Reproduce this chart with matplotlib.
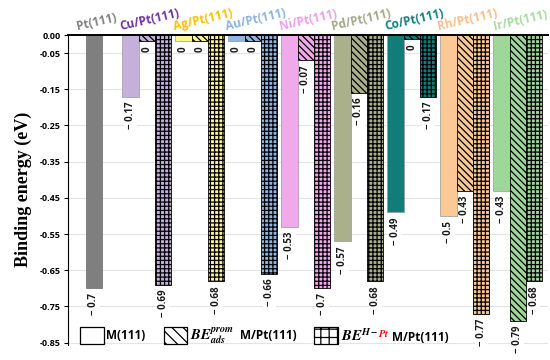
import numpy as np
import matplotlib
matplotlib.use('Agg')
import matplotlib.pyplot as plt
from matplotlib.patches import Rectangle
from matplotlib.offsetbox import (AnchoredOffsetbox, DrawingArea, HPacker,
                                  TextArea)

CATEGORIES = ['Pt(111)', 'Cu/Pt(111)', 'Ag/Pt(111)', 'Au/Pt(111)', 'Ni/Pt(111)',
              'Pd/Pt(111)', 'Co/Pt(111)', 'Rh/Pt(111)', 'Ir/Pt(111)']
PT_VALUE = -0.70
PT_LABEL = '\u2212 0.7'

# metal groups (Cu ... Ir)
m111 = [-0.17, -0.017, -0.017, -0.53, -0.57, -0.49, -0.50, -0.43]
prom = [-0.017, -0.017, -0.017, -0.07, -0.16, -0.012, -0.43, -0.79]
h_pt = [-0.69, -0.68, -0.66, -0.70, -0.68, -0.17, -0.77, -0.68]

m111_labels = ['\u2212 0.17', '0', '0', '\u2212 0.53', '\u2212 0.57', '\u2212 0.49', '\u2212 0.5', '\u2212 0.43']
prom_labels = ['0', '0', '0', '\u2212 0.07', '\u2212 0.16', '0', '\u2212 0.43', '\u2212 0.79']
h_pt_labels = ['\u2212 0.69', '\u2212 0.68', '\u2212 0.66', '\u2212 0.7', '\u2212 0.68', '\u2212 0.17', '\u2212 0.77', '\u2212 0.68']

bar_colors = ['#c3b1dc', '#fbf594', '#8fb5e5', '#f0aaec', '#a9b08b', '#117c79', '#fcc896', '#9fd69a']
name_colors = ['#808080', '#7030a0', '#ffc000', '#8db4e2', '#f29cee', '#a3a886',
               '#11807c', '#fbbd8a', '#a6dba0']

yticks = [0.0, -0.05, -0.15, -0.25, -0.35, -0.45, -0.55, -0.65, -0.75, -0.85]

SANS = 'Open Sans'
plt.rcParams['hatch.linewidth'] = 0.9
plt.rcParams['mathtext.fontset'] = 'stix'

fig = plt.figure(figsize=(5.5, 3.6), dpi=100)
ax = fig.add_axes([68 / 550, 15.5 / 360, 480 / 550, 309.5 / 360])

w = 0.308
x = np.arange(1, 9)
label_kw = dict(rotation=90, ha='center', va='top', fontsize=7, fontweight='bold',
                family=SANS, color='#1a1a1a',
                bbox=dict(facecolor='white', edgecolor='none', pad=0.6))


def put_labels(xs, vals, labels):
  for xi, v, s in zip(xs, vals, labels):
    ax.annotate(s, (xi, v), xytext=(0, -3.5), textcoords='offset points', **label_kw)


# Pt(111) bar
ax.bar(0, PT_VALUE, w, color='#7f7f7f', edgecolor='#6a6a6a', linewidth=0.5, zorder=2)
put_labels([0], [PT_VALUE], [PT_LABEL])

ax.bar(x - w, m111, w, color=bar_colors, edgecolor='#999999', linewidth=0.5, zorder=2)
ax.bar(x, prom, w, color=bar_colors, edgecolor='black', hatch='\\\\\\\\\\', linewidth=0.6, zorder=2)
ax.bar(x + w, h_pt, w, color=bar_colors, edgecolor='black', hatch='++++', linewidth=0.6, zorder=2)
put_labels(x - w, m111, m111_labels)
put_labels(x, prom, prom_labels)
put_labels(x + w, h_pt, h_pt_labels)

# category names over the groups
for i, (name, c) in enumerate(zip(CATEGORIES, name_colors)):
  ax.text(i + 0.05, 0.006, name, rotation=13, ha='center', va='bottom', color=c,
          fontsize=8.5, fontweight='bold', family=SANS, clip_on=False)

ax.set_xlim(-0.49, 8.57)
ax.set_ylim(-0.855, 0)
ax.set_yticks(yticks)
ax.set_yticklabels(['%.2f' % t for t in yticks], fontsize=6.5, fontweight='bold', family=SANS)
ax.set_xticks([])
ax.tick_params(axis='y', length=3, width=0.8, pad=2)
ax.yaxis.grid(True, color='#e4e4e4', linewidth=0.8, zorder=0)
ax.set_axisbelow(True)
for s in ['right', 'bottom']:
  ax.spines[s].set_visible(False)
ax.spines['top'].set_linewidth(1.4)
ax.spines['left'].set_linewidth(0.8)
ax.set_ylabel('Binding energy (eV)', family='Liberation Serif', fontweight='bold',
              fontsize=13, labelpad=6)

# legend built by hand so part of the label can be red
def swatch(hatch):
  da = DrawingArea(17, 12, 0, 0)
  da.add_artist(Rectangle((0, 0), 17, 12, facecolor='white', edgecolor='black',
                          linewidth=0.9, hatch=hatch))
  return da


tprops = dict(fontsize=8.5, fontweight='bold', family=SANS)
mprops = dict(fontsize=10.5, fontweight='bold')
entries = [
  HPacker(children=[swatch(''), TextArea('M(111)', textprops=tprops)], pad=0, sep=2, align='center'),
  HPacker(children=[swatch('\\\\\\'),
                    TextArea(r'$\mathbfit{BE}_{\mathbfit{ads}}^{\mathbfit{prom}}$', textprops=mprops),
                    TextArea(' M/Pt(111)', textprops=tprops)], pad=0, sep=2, align='center'),
  HPacker(children=[swatch('++'),
                    HPacker(children=[TextArea(r'$\mathbfit{BE}^{\mathbfit{H-}}$', textprops=mprops),
                                      TextArea(r'$^{\mathbfit{Pt}}$', textprops=dict(mprops, color='red')),
                                      TextArea(' M/Pt(111)', textprops=tprops)],
                            pad=0, sep=0, align='baseline')], pad=0, sep=2, align='center'),
]
box = HPacker(children=entries, pad=0, sep=13, align='center')
anchored = AnchoredOffsetbox(loc='lower left', child=box, frameon=False,
                             bbox_to_anchor=(0.025, -0.005), bbox_transform=ax.transAxes,
                             borderpad=0, pad=0)
ax.add_artist(anchored)

fig.savefig('out.png', dpi=100)
